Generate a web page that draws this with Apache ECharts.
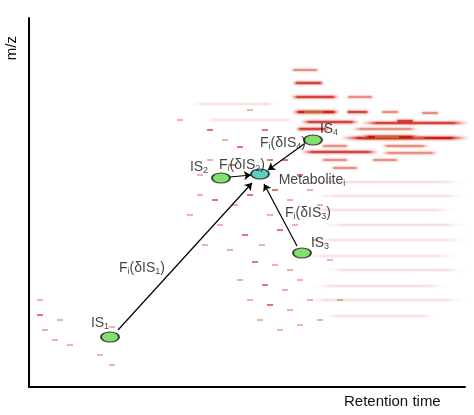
<!DOCTYPE html>
<html><head><meta charset="utf-8">
<script src="https://cdn.jsdelivr.net/npm/echarts@6/dist/echarts.min.js"></script>
<style>html,body{margin:0;background:#fff}#c{width:474px;height:415px}</style>
</head><body><div id="c"></div>
<script>
// streaks: [xStart, xEnd, y, intensity]
const streaks = [
  [290,320,70,1],[292,325,83,2],[290,340,97,2],[345,375,97,1],
  [292,340,112,3],[345,370,112,2],[380,400,112,1],[420,440,113,1],
  [300,360,122,2],[360,470,123,2],[395,415,121,2],[295,330,129,2],[350,420,129,1],
  [340,470,138,3],[360,420,137,3],[320,350,146,1],[380,430,146,1],
  [300,380,152,2],[380,440,153,1],[320,350,160,1],[370,400,160,1],[330,360,168,1],
  [300,470,182,0.5],[310,470,196,0.5],[300,460,210,0.5],[320,470,225,0.5],
  [310,470,240,0.5],[300,460,256,0.5],[320,470,270,0.5],[310,450,286,0.5],
  [300,470,300,0.5],[320,440,316,0.5],[200,300,120,0.5],[190,280,104,0.5]
];
// spots: [x, y, intensity]
const spots = [
  [210,130,2],[225,140,1],[240,147,2],[210,160,1],[232,165,2],[200,195,1],[215,200,2],
  [235,205,1],[250,195,2],[270,215,1],[220,225,1],[245,235,2],[262,245,1],[280,230,2],
  [230,250,1],[255,262,2],[275,265,1],[290,270,1],[240,280,1],[265,285,2],[285,290,1],
  [300,280,1],[250,300,1],[270,305,2],[290,310,1],[310,300,1],[260,320,1],[280,330,1],
  [300,325,1],[320,320,1],[340,300,1],[275,190,2],[290,200,1],[285,160,2],[300,175,2],
  [310,190,1],[320,205,1],[295,225,1],[315,240,1],[330,260,1],[200,175,1],[190,215,1],
  [205,245,1],[40,300,1],[40,315,2],[45,330,1],[55,340,1],[70,345,1],[100,355,1],
  [112,365,1],[60,320,1],[112,327,1],[180,120,1],[250,110,1],[265,130,2],[270,160,2]
];
const markers = [
  {name:'IS1', x:110, y:337, color:'#62d94a'},
  {name:'IS2', x:221, y:178, color:'#62d94a'},
  {name:'Metabolite', x:260, y:174, color:'#36c2b4'},
  {name:'IS3', x:302, y:253, color:'#62d94a'},
  {name:'IS4', x:313, y:140, color:'#62d94a'}
];
const arrows = [
  [[118,330],[252,183]],
  [[230,177],[251,175]],
  [[297,246],[264,184]],
  [[304,144],[268,170]]
];
// labels: [x, y, richText]
const labels = [
  [100,323,'{n|IS}{s|1}'],
  [142,268,'{n|F}{s|i}{n|(δIS}{s|1}{n|)}'],
  [199,167,'{n|IS}{s|2}'],
  [242,165,'{n|F}{s|i}{n|(δIS}{s|2}{n|)}'],
  [312,180,'{n|Metabolite}{s|i}'],
  [308,213,'{n|F}{s|i}{n|(δIS}{s|3}{n|)}'],
  [320,243,'{n|IS}{s|3}'],
  [283,143,'{n|F}{s|i}{n|(δIS}{s|4}{n|)}'],
  [329,129,'{n|IS}{s|4}']
];
const rich = {
  n:{fontSize:14, fontFamily:'Liberation Sans, Arial', color:'#111', lineHeight:17},
  s:{fontSize:9, fontFamily:'Liberation Sans, Arial', color:'#111', verticalAlign:'bottom', padding:[8,0,0,0]}
};
const chart = echarts.init(document.getElementById('c'));
const reds = ['rgba(230,120,110,0.35)','rgba(215,60,40,0.5)','rgba(205,30,20,0.75)','rgba(200,20,10,0.9)'];
chart.setOption({
  animation:false,
  grid:{left:29, right:9, top:18, bottom:28},
  xAxis:{type:'value', min:29, max:465, axisLine:{lineStyle:{color:'#000',width:2}}, axisTick:{show:false}, axisLabel:{show:false}, splitLine:{show:false}},
  yAxis:{type:'value', min:18, max:387, inverse:true, axisLine:{lineStyle:{color:'#000',width:2}}, axisTick:{show:false}, axisLabel:{show:false}, splitLine:{show:false}},
  graphic:[
    {type:'text', left:4, top:36, style:{text:'m/z', fontSize:15, fontFamily:'Liberation Sans, Arial', fill:'#111'}, rotation:Math.PI/2},
    {type:'text', left:344, top:394, style:{text:'Retention time', fontSize:15, fontFamily:'Liberation Sans, Arial', fill:'#111'}}
  ],
  series:[
    {type:'custom', data:streaks, z:1,
      renderItem:(p, api)=>{
        const a = api.coord([api.value(0), api.value(2)]);
        const b = api.coord([api.value(1), api.value(2)]);
        const k = api.value(3);
        const col = k < 1 ? 'rgba(235,170,165,0.3)' : reds[Math.round(k)];
        const children = [{type:'rect', shape:{x:a[0], y:a[1]-1.2, width:b[0]-a[0], height:2.4},
          style:{shadowBlur:3, shadowColor:col, fill:new echarts.graphic.LinearGradient(0,0,1,0,[{offset:0,color:'rgba(255,255,255,0)'},{offset:0.15,color:col},{offset:0.85,color:col},{offset:1,color:'rgba(255,255,255,0)'}])}}];
        if (k >= 3) children.push({type:'rect', shape:{x:a[0]+(b[0]-a[0])*0.25, y:a[1]-0.6, width:(b[0]-a[0])*0.4, height:1.2}, style:{fill:'rgba(190,190,60,0.8)'}});
        return {type:'group', children};
      }},
    {type:'scatter', data:spots.map(s=>[s[0],s[1],s[2]]), symbol:'rect', symbolSize:[6,2], z:1,
      itemStyle:{color:p=>reds[p.value[2]]}},
    {type:'lines', coordinateSystem:'cartesian2d', z:3, symbol:['none','arrow'], symbolSize:7,
      lineStyle:{color:'#000', width:1.2, opacity:1},
      data:arrows.map(a=>({coords:a}))},
    {type:'scatter', z:4, symbol:'circle', symbolSize:[18,10],
      data:markers.map(m=>({value:[m.x,m.y], itemStyle:{color:m.color, borderColor:'#111', borderWidth:1.5}}))},
    {type:'scatter', z:5, symbolSize:0,
      data:labels.map(l=>({value:[l[0],l[1]], label:{show:true, formatter:l[2], rich, position:'inside'}}))}
  ]
});
</script></body></html>
